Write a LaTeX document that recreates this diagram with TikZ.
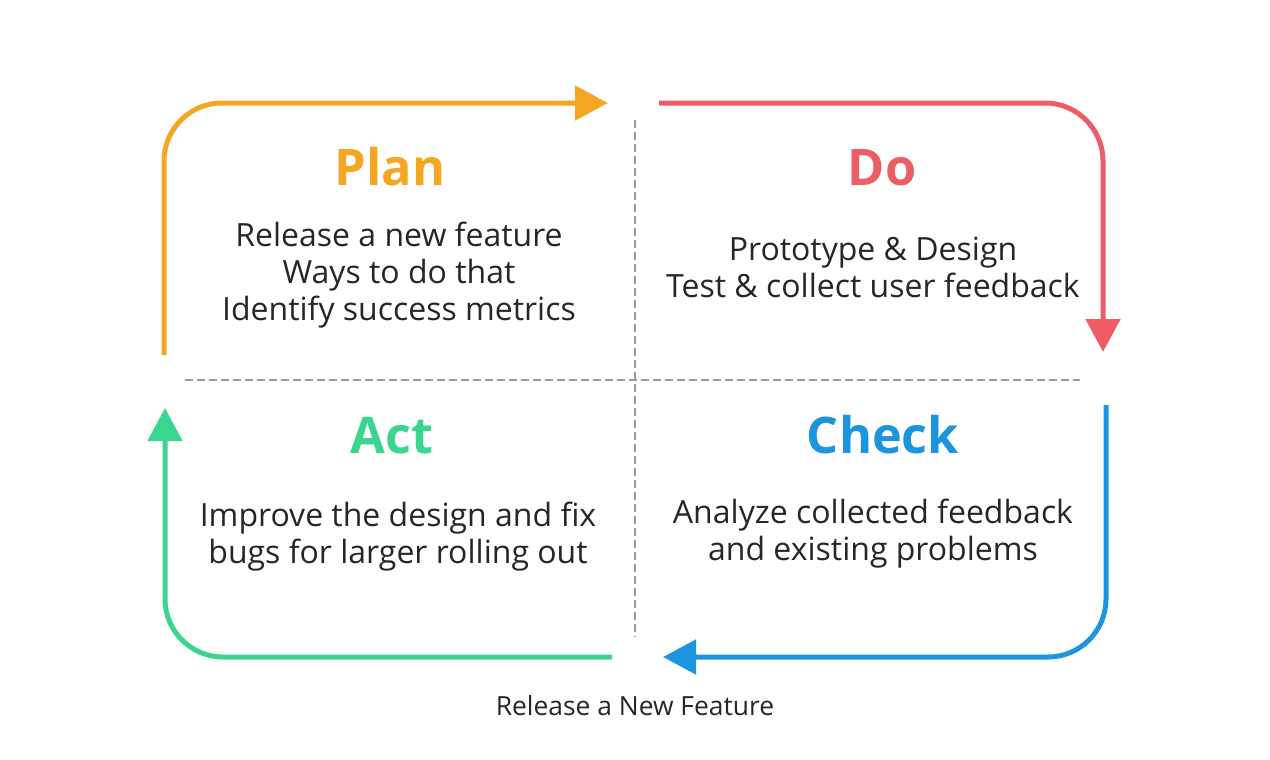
\documentclass[tikz,border=0pt]{standalone}
\usepackage{fontspec}
\setmainfont{Open Sans}
\usetikzlibrary{arrows.meta, positioning}
\definecolor{planc}{HTML}{F5A623}
\definecolor{doc}{HTML}{EE5C66}
\definecolor{checkc}{HTML}{1B95DE}
\definecolor{actc}{HTML}{3AD58F}
\definecolor{ink}{HTML}{262626}
\definecolor{rule}{HTML}{9A9A9A}
\tikzset{
  title/.style={anchor=base,inner sep=0pt,font=\fontsize{25.2}{30}\selectfont\bfseries},
  body/.style={inner sep=0pt,align=center,text=ink,font=\fontsize{16}{18.5}\selectfont},
  cycle/.style={line width=2.5pt,rounded corners=29pt,-{Triangle[length=16.5pt,width=17pt]}},
  divider/.style={draw=rule,line width=0.7pt,dash pattern=on 4pt off 2pt}
}
\begin{document}
\begin{tikzpicture}[x=0.5pt,y=-0.5pt]
\useasboundingbox (0,0) rectangle (1270,760);
\node[title,text=planc] (plan) at (390,185) {Plan};
\node[title,text=doc] (do) at (882,185) {Do};
\node[title,text=actc] (act) at (392,453) {Act};
\node[title,text=checkc] (check) at (883,453) {Check};
\node[body, below=18.5pt of plan.base, anchor=north, xshift=4.5pt] (planbody) {Release a new feature\\Ways to do that\\Identify success metrics};
\node[body, below=26pt of do.base, anchor=north, xshift=-4.5pt] (dobody) {Prototype \& Design\\Test \& collect user feedback};
\node[body, below=24.5pt of act.base, anchor=north, xshift=3pt] (actbody) {Improve the design and fix\\bugs for larger rolling out};
\node[body, below=23pt of check.base, anchor=north, xshift=-5pt] (checkbody) {Analyze collected feedback\\and existing problems};
\node[anchor=base,inner sep=0pt,text=ink,font=\fontsize{13.2}{15}\selectfont] (caption) at (635,715) {Release a New Feature};
% arrow ends
\coordinate (pa) at (164,355);
\coordinate (pb) at (608,103);
\coordinate (da) at (659,103);
\coordinate (db) at (1103,352);
\coordinate (ca) at (1106,405);
\coordinate (cb) at (663,657);
\coordinate (aa) at (612,657);
\coordinate (ab) at (165,408);
\coordinate (vt) at (635,120);
\coordinate (vb) at (635,637);
\coordinate (hl) at (185,380);
\coordinate (hr) at (1080,380);
\draw[divider] (vt) -- (vb);
\draw[divider] (hl) -- (hr);
\draw[cycle,planc] (pa) |- (pb);
\draw[cycle,doc] (da) -| (db);
\draw[cycle,checkc] (ca) |- (cb);
\draw[cycle,actc] (aa) -| (ab);
\end{tikzpicture}
\end{document}
